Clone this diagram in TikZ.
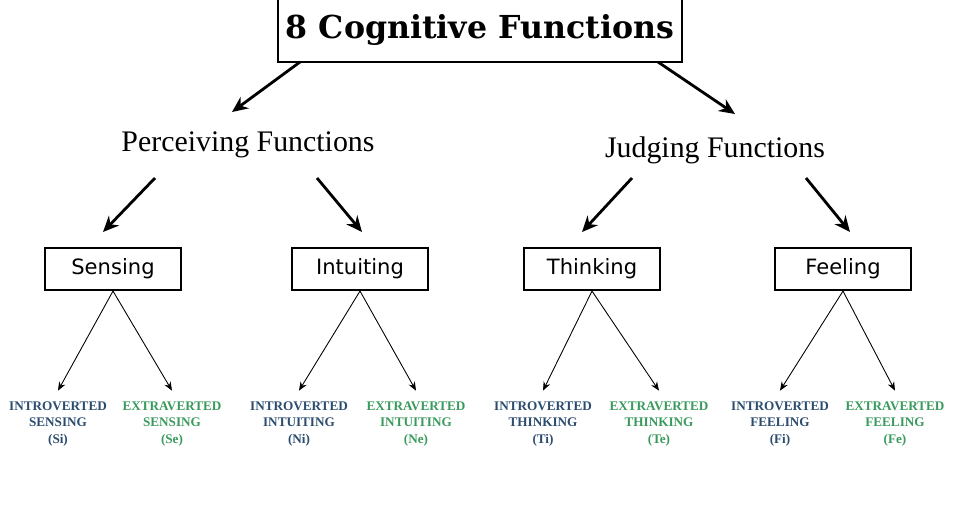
\documentclass[tikz,border=0pt]{standalone}
\usepackage{fontspec}
\setmainfont{Liberation Serif}
\newfontfamily\boxfont{DejaVu Sans}
\newfontfamily\titlefont{DejaVu Serif}
\usetikzlibrary{arrows.meta}
\definecolor{introblue}{HTML}{2B4C6F}
\definecolor{extragreen}{HTML}{3A9A5E}
\begin{document}
\begin{tikzpicture}[x=0.02cm,y=-0.02cm,>={Stealth[length=9pt,width=8pt]}]
    \tikzset{fbox/.style={draw,line width=1.2pt,minimum width=136*0.02cm,minimum height=42*0.02cm,font=\boxfont\fontsize{12}{14}\selectfont},
             group/.style={font=\fontsize{17}{20}\selectfont},
             leaf/.style={align=center,font=\bfseries\fontsize{7.5}{9.5}\selectfont,inner sep=1pt},
             intro/.style={leaf,text=introblue},
             extra/.style={leaf,text=extragreen},
             thick arrow/.style={->,line width=1.6pt},
             thin arrow/.style={-{Stealth[length=5pt,width=4pt]},line width=0.5pt}}
    \useasboundingbox (0,0) rectangle (960,504);
      \node[draw,line width=1.4pt,minimum width=404*0.02cm,minimum height=64*0.02cm,font=\titlefont\bfseries\fontsize{18}{20}\selectfont] (title) at (480,30) {8 Cognitive Functions};
      \node[group] (perc) at (248,145) {Perceiving Functions};
      \node[group] (judg) at (715,150) {Judging Functions};
      % function boxes
      \node[fbox] (sens) at (113,269) {Sensing};
      \node[fbox] (intu) at (360,269) {Intuiting};
      \node[fbox] (thin) at (592,269) {Thinking};
      \node[fbox] (feel) at (843,269) {Feeling};
      % leaves
      \node[intro] (si) at (58,424) {INTROVERTED\\SENSING\\(Si)};
      \node[extra] (se) at (172,424) {EXTRAVERTED\\SENSING\\(Se)};
      \node[intro] (ni) at (299,424) {INTROVERTED\\INTUITING\\(Ni)};
      \node[extra] (ne) at (416,424) {EXTRAVERTED\\INTUITING\\(Ne)};
      \node[intro] (ti) at (543,424) {INTROVERTED\\THINKING\\(Ti)};
      \node[extra] (te) at (659,424) {EXTRAVERTED\\THINKING\\(Te)};
      \node[intro] (fi) at (780,424) {INTROVERTED\\FEELING\\(Fi)};
      \node[extra] (fe) at (895,424) {EXTRAVERTED\\FEELING\\(Fe)};

      \coordinate (t1) at (300,62);  \coordinate (t1e) at (232,112);
      \coordinate (t2) at (658,62);  \coordinate (t2e) at (735,114);
      \draw[thick arrow] (t1) -- (t1e);
      \draw[thick arrow] (t2) -- (t2e);
      \coordinate (p1) at (155,178); \coordinate (p1e) at (103,232);
      \coordinate (p2) at (317,178); \coordinate (p2e) at (362,232);
      \coordinate (j1) at (632,178); \coordinate (j1e) at (582,232);
      \coordinate (j2) at (806,178); \coordinate (j2e) at (850,232);
      \draw[thick arrow] (p1) -- (p1e);
      \draw[thick arrow] (p2) -- (p2e);
      \draw[thick arrow] (j1) -- (j1e);
      \draw[thick arrow] (j2) -- (j2e);

      \foreach \b/\l/\r in {sens/si/se,intu/ni/ne,thin/ti/te,feel/fi/fe}{
        \draw[thin arrow] (\b.south) -- ([yshift=5pt]\l.north);
        \draw[thin arrow] (\b.south) -- ([yshift=5pt]\r.north);
      }
    \end{tikzpicture}
\end{document}
